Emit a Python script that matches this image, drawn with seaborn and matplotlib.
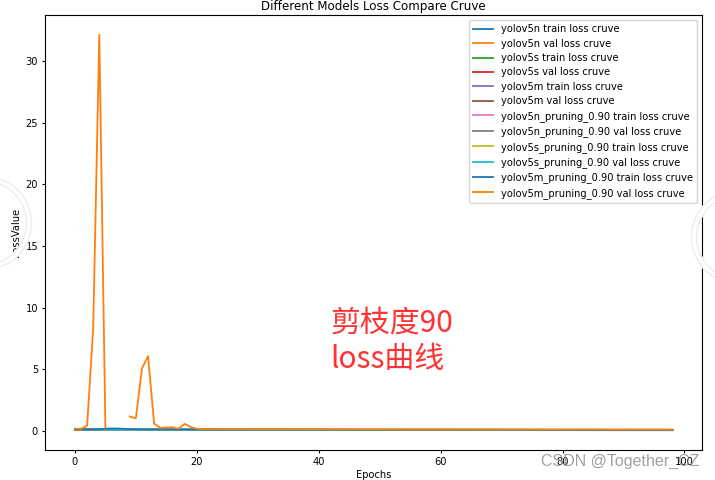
import numpy as np
import pandas as pd
import matplotlib
matplotlib.use("Agg")
import matplotlib.pyplot as plt
import seaborn as sns
from matplotlib.patches import Circle

nan = np.nan

series_labels = [
    "yolov5n train loss cruve",
    "yolov5n val loss cruve",
    "yolov5s train loss cruve",
    "yolov5s val loss cruve",
    "yolov5m train loss cruve",
    "yolov5m val loss cruve",
    "yolov5n_pruning_0.90 train loss cruve",
    "yolov5n_pruning_0.90 val loss cruve",
    "yolov5s_pruning_0.90 train loss cruve",
    "yolov5s_pruning_0.90 val loss cruve",
    "yolov5m_pruning_0.90 train loss cruve",
    "yolov5m_pruning_0.90 val loss cruve",
]

v5n_train = [
    0.118,0.105,0.098,0.094,0.091,0.089,0.087,0.086,0.085,0.084,
    0.083,0.082,0.081,0.081,0.080,0.079,0.079,0.078,0.078,0.077,
    0.077,0.076,0.076,0.075,0.075,0.075,0.074,0.074,0.073,0.073,
    0.073,0.072,0.072,0.072,0.071,0.071,0.071,0.070,0.070,0.070,
    0.069,0.069,0.069,0.069,0.068,0.068,0.068,0.067,0.067,0.067,
    0.067,0.066,0.066,0.066,0.066,0.065,0.065,0.065,0.065,0.064,
    0.064,0.064,0.064,0.063,0.063,0.063,0.063,0.062,0.062,0.062,
    0.062,0.061,0.061,0.061,0.061,0.060,0.060,0.060,0.060,0.059,
    0.059,0.059,0.059,0.058,0.058,0.058,0.057,0.057,0.057,0.056,
    0.056,0.056,0.055,0.055,0.055,0.054,0.054,0.054,0.053]
v5n_val = [
    0.092,0.088,0.085,0.083,0.082,0.081,0.080,0.080,0.079,0.078,
    0.078,0.077,0.077,0.076,0.076,0.075,0.075,0.074,0.074,0.074,
    0.073,0.073,0.073,0.072,0.072,0.072,0.071,0.071,0.071,0.071,
    0.070,0.070,0.070,0.070,0.069,0.069,0.069,0.069,0.068,0.068,
    0.068,0.068,0.068,0.067,0.067,0.067,0.067,0.067,0.066,0.066,
    0.066,0.066,0.066,0.066,0.065,0.065,0.065,0.065,0.065,0.065,
    0.064,0.064,0.064,0.064,0.064,0.064,0.064,0.063,0.063,0.063,
    0.063,0.063,0.063,0.063,0.062,0.062,0.062,0.062,0.062,0.062,
    0.062,0.062,0.061,0.061,0.061,0.061,0.061,0.061,0.061,0.061,
    0.060,0.060,0.060,0.060,0.060,0.060,0.060,0.060,0.060]
v5s_train = [
    0.108,0.094,0.088,0.084,0.081,0.079,0.077,0.076,0.075,0.074,
    0.073,0.072,0.071,0.070,0.070,0.069,0.068,0.068,0.067,0.067,
    0.066,0.066,0.065,0.065,0.064,0.064,0.064,0.063,0.063,0.062,
    0.062,0.062,0.061,0.061,0.061,0.060,0.060,0.060,0.059,0.059,
    0.059,0.058,0.058,0.058,0.058,0.057,0.057,0.057,0.056,0.056,
    0.056,0.056,0.055,0.055,0.055,0.055,0.054,0.054,0.054,0.054,
    0.053,0.053,0.053,0.053,0.052,0.052,0.052,0.052,0.051,0.051,
    0.051,0.051,0.050,0.050,0.050,0.050,0.049,0.049,0.049,0.049,
    0.048,0.048,0.048,0.047,0.047,0.047,0.047,0.046,0.046,0.046,
    0.045,0.045,0.045,0.045,0.044,0.044,0.044,0.044,0.043]
v5s_val = [
    0.081,0.076,0.073,0.071,0.070,0.069,0.068,0.067,0.066,0.066,
    0.065,0.065,0.064,0.064,0.063,0.063,0.063,0.062,0.062,0.062,
    0.061,0.061,0.061,0.061,0.060,0.060,0.060,0.060,0.059,0.059,
    0.059,0.059,0.059,0.058,0.058,0.058,0.058,0.058,0.058,0.057,
    0.057,0.057,0.057,0.057,0.057,0.057,0.056,0.056,0.056,0.056,
    0.056,0.056,0.056,0.056,0.055,0.055,0.055,0.055,0.055,0.055,
    0.055,0.055,0.055,0.055,0.054,0.054,0.054,0.054,0.054,0.054,
    0.054,0.054,0.054,0.054,0.054,0.054,0.053,0.053,0.053,0.053,
    0.053,0.053,0.053,0.053,0.053,0.053,0.053,0.053,0.053,0.053,
    0.053,0.053,0.052,0.052,0.052,0.052,0.052,0.052,0.052]
v5m_train = [
    0.101,0.086,0.080,0.077,0.074,0.072,0.070,0.069,0.068,0.067,
    0.066,0.065,0.064,0.063,0.063,0.062,0.061,0.061,0.060,0.060,
    0.059,0.059,0.058,0.058,0.057,0.057,0.056,0.056,0.056,0.055,
    0.055,0.054,0.054,0.054,0.053,0.053,0.053,0.052,0.052,0.052,
    0.051,0.051,0.051,0.050,0.050,0.050,0.049,0.049,0.049,0.048,
    0.048,0.048,0.047,0.047,0.047,0.046,0.046,0.046,0.045,0.045,
    0.045,0.044,0.044,0.044,0.043,0.043,0.043,0.042,0.042,0.042,
    0.041,0.041,0.041,0.040,0.040,0.040,0.039,0.039,0.039,0.038,
    0.038,0.038,0.037,0.037,0.037,0.036,0.036,0.036,0.035,0.035,
    0.035,0.034,0.034,0.034,0.034,0.033,0.033,0.033,0.033]
v5m_val = [
    0.076,0.071,0.068,0.066,0.065,0.064,0.063,0.062,0.062,0.061,
    0.061,0.060,0.060,0.059,0.059,0.059,0.058,0.058,0.058,0.057,
    0.057,0.057,0.057,0.056,0.056,0.056,0.056,0.056,0.055,0.055,
    0.055,0.055,0.055,0.055,0.054,0.054,0.054,0.054,0.054,0.054,
    0.054,0.054,0.053,0.053,0.053,0.053,0.053,0.053,0.053,0.053,
    0.053,0.053,0.053,0.053,0.053,0.053,0.053,0.053,0.053,0.053,
    0.053,0.053,0.053,0.053,0.053,0.053,0.053,0.053,0.053,0.054,
    0.054,0.054,0.054,0.054,0.054,0.054,0.054,0.054,0.054,0.054,
    0.054,0.055,0.055,0.055,0.055,0.055,0.055,0.055,0.055,0.055,
    0.055,0.055,0.055,0.056,0.056,0.056,0.056,0.056,0.056]
v5n_p90_train = [
    0.124,0.112,0.106,0.102,0.099,0.097,0.095,0.094,0.093,0.092,
    0.091,0.090,0.089,0.089,0.088,0.087,0.087,0.086,0.086,0.085,
    0.085,0.084,0.084,0.083,0.083,0.083,0.082,0.082,0.081,0.081,
    0.081,0.080,0.080,0.080,0.079,0.079,0.079,0.078,0.078,0.078,
    0.077,0.077,0.077,0.077,0.076,0.076,0.076,0.075,0.075,0.075,
    0.075,0.074,0.074,0.074,0.074,0.073,0.073,0.073,0.073,0.072,
    0.072,0.072,0.072,0.071,0.071,0.071,0.071,0.070,0.070,0.070,
    0.070,0.069,0.069,0.069,0.069,0.068,0.068,0.068,0.068,0.067,
    0.067,0.067,0.067,0.066,0.066,0.066,0.066,0.065,0.065,0.065,
    0.065,0.064,0.064,0.064,0.064,0.063,0.063,0.063,0.063]
v5n_p90_val = [
    0.112,0.104,0.099,0.096,0.094,0.092,0.091,0.090,0.089,0.088,
    0.087,0.087,0.086,0.086,0.085,0.085,0.084,0.084,0.083,0.083,
    0.083,0.082,0.082,0.082,0.081,0.081,0.081,0.081,0.080,0.080,
    0.080,0.080,0.079,0.079,0.079,0.079,0.078,0.078,0.078,0.078,
    0.078,0.077,0.077,0.077,0.077,0.077,0.076,0.076,0.076,0.076,
    0.076,0.076,0.075,0.075,0.075,0.075,0.075,0.075,0.074,0.074,
    0.074,0.074,0.074,0.074,0.074,0.073,0.073,0.073,0.073,0.073,
    0.073,0.073,0.072,0.072,0.072,0.072,0.072,0.072,0.072,0.072,
    0.071,0.071,0.071,0.071,0.071,0.071,0.071,0.071,0.070,0.070,
    0.070,0.070,0.070,0.070,0.070,0.070,0.070,0.069,0.069]
v5s_p90_train = [
    0.119,0.105,0.098,0.094,0.091,0.089,0.087,0.086,0.084,0.083,
    0.082,0.081,0.081,0.080,0.079,0.078,0.078,0.077,0.077,0.076,
    0.076,0.075,0.075,0.074,0.074,0.073,0.073,0.073,0.072,0.072,
    0.071,0.071,0.071,0.070,0.070,0.070,0.069,0.069,0.069,0.068,
    0.068,0.068,0.067,0.067,0.067,0.066,0.066,0.066,0.066,0.065,
    0.065,0.065,0.064,0.064,0.064,0.064,0.063,0.063,0.063,0.062,
    0.062,0.062,0.062,0.061,0.061,0.061,0.060,0.060,0.060,0.060,
    0.059,0.059,0.059,0.058,0.058,0.058,0.058,0.057,0.057,0.057,
    0.056,0.056,0.056,0.056,0.055,0.055,0.055,0.054,0.054,0.054,
    0.054,0.053,0.053,0.053,0.052,0.052,0.052,0.052,0.051]
v5s_p90_val = [
    0.103,0.095,0.091,0.088,0.086,0.084,0.083,0.082,0.081,0.080,
    0.080,0.079,0.078,0.078,0.077,0.077,0.076,0.076,0.076,0.075,
    0.075,0.075,0.074,0.074,0.074,0.073,0.073,0.073,0.073,0.072,
    0.072,0.072,0.072,0.071,0.071,0.071,0.071,0.071,0.070,0.070,
    0.070,0.070,0.070,0.069,0.069,0.069,0.069,0.069,0.069,0.068,
    0.068,0.068,0.068,0.068,0.068,0.068,0.067,0.067,0.067,0.067,
    0.067,0.067,0.067,0.067,0.066,0.066,0.066,0.066,0.066,0.066,
    0.066,0.066,0.066,0.066,0.065,0.065,0.065,0.065,0.065,0.065,
    0.065,0.065,0.065,0.065,0.065,0.065,0.064,0.064,0.064,0.064,
    0.064,0.064,0.064,0.064,0.064,0.064,0.064,0.064,0.064]
v5m_p90_train = [
    0.131,0.118,0.112,0.109,0.112,0.158,0.176,0.168,0.149,0.128,
    0.117,0.110,0.106,0.103,0.100,0.098,0.096,0.095,0.093,0.092,
    0.091,0.090,0.089,0.088,0.087,0.086,0.086,0.085,0.084,0.084,
    0.083,0.082,0.082,0.081,0.081,0.080,0.080,0.079,0.079,0.078,
    0.078,0.077,0.077,0.077,0.076,0.076,0.075,0.075,0.075,0.074,
    0.074,0.074,0.073,0.073,0.073,0.072,0.072,0.072,0.071,0.071,
    0.071,0.070,0.070,0.070,0.069,0.069,0.069,0.068,0.068,0.068,
    0.068,0.067,0.067,0.067,0.066,0.066,0.066,0.066,0.065,0.065,
    0.065,0.064,0.064,0.064,0.064,0.063,0.063,0.063,0.063,0.062,
    0.062,0.062,0.062,0.061,0.061,0.061,0.061,0.060,0.060]
v5m_p90_val = [
    0.160,0.145,0.400,8.300,32.150,0.250,nan,nan,nan,1.150,
    1.000,5.050,6.050,0.570,0.220,0.260,0.270,0.160,0.550,0.300,
    0.150,0.128,0.121,0.117,0.114,0.112,0.110,0.108,0.107,0.106,
    0.105,0.104,0.103,0.102,0.101,0.101,0.100,0.099,0.099,0.098,
    0.097,0.097,0.096,0.096,0.095,0.095,0.094,0.094,0.093,0.093,
    0.093,0.092,0.092,0.091,0.091,0.091,0.090,0.090,0.090,0.089,
    0.089,0.089,0.088,0.088,0.088,0.087,0.087,0.087,0.087,0.086,
    0.086,0.086,0.086,0.085,0.085,0.085,0.085,0.084,0.084,0.084,
    0.084,0.084,0.083,0.083,0.083,0.083,0.083,0.082,0.082,0.082,
    0.082,0.082,0.082,0.081,0.081,0.081,0.081,0.081,0.081]

all_series = [v5n_train, v5n_val, v5s_train, v5s_val, v5m_train, v5m_val,
              v5n_p90_train, v5n_p90_val, v5s_p90_train, v5s_p90_val,
              v5m_p90_train, v5m_p90_val]

title_text = "Different Models Loss Compare Cruve"
xlabel_text = "Epochs"
ylabel_text = "LossValue"
note_text = "剪枝度90\nloss曲线"
watermark_text = "CSDN @Together_CZ"

fig = plt.figure(figsize=(7.15, 4.8), dpi=100)
ax = fig.add_axes([0.063, 0.0625, 0.919, 0.906])

for i, (label, vals) in enumerate(zip(series_labels, all_series)):
    y = np.asarray(vals, dtype=float)
    epochs = np.arange(len(y))
    df = pd.DataFrame({"epoch": epochs, "loss": y})
    valid = ~np.isnan(y)
    df["seg"] = np.cumsum(~valid)
    df = df[valid]
    first = True
    for _, sub in df.groupby("seg"):
        sns.lineplot(data=sub, x="epoch", y="loss", ax=ax, color=f"C{i % 10}",
                     linewidth=1.3, label=label if first else "_nolegend_",
                     legend=False)
        first = False

ax.set_title(title_text, fontsize=8.6, pad=4)
ax.set_xlabel(xlabel_text, fontsize=7.15, labelpad=2.5)
ax.set_ylabel(ylabel_text, fontsize=7.15, labelpad=3)
ax.tick_params(labelsize=7.15, length=2.5, pad=2.5)
ax.set_xticks([0, 20, 40, 60, 80, 100])
ax.set_yticks([0, 5, 10, 15, 20, 25, 30])
ax.margins(x=0.05, y=0.05)
leg = ax.legend(loc="upper right", fontsize=7.15, handlelength=2.0,
                labelspacing=0.45, borderpad=0.4, framealpha=0.8)

ax.text(0.434, 0.25, note_text, transform=ax.transAxes, color="#ff3333",
        fontsize=21.5, family=["Noto Sans CJK SC", "DejaVu Sans"],
        ha="left", va="center", linespacing=1.2)

fig.text(0.978, 0.022, watermark_text, color="#909090", fontsize=11.5,
         family=["Liberation Sans", "DejaVu Sans"], ha="right", va="bottom",
         alpha=0.85)

# faint circular watermark rings at the side edges
for cx, cy, r, lw, col in [(-15, 223, 44, 5, "white"), (-15, 223, 41.5, 1, "#ececec"),
                           (-15, 223, 46.5, 1, "#ececec"),
                           (738, 237, 44, 5, "white"), (738, 237, 41.5, 1, "#ececec"),
                           (738, 237, 46.5, 1, "#ececec")]:
    fig.patches.append(Circle((cx, 480 - cy), r, transform=None, fill=False,
                              edgecolor=col, linewidth=lw, zorder=10))

fig.savefig("out.png", dpi=100)
